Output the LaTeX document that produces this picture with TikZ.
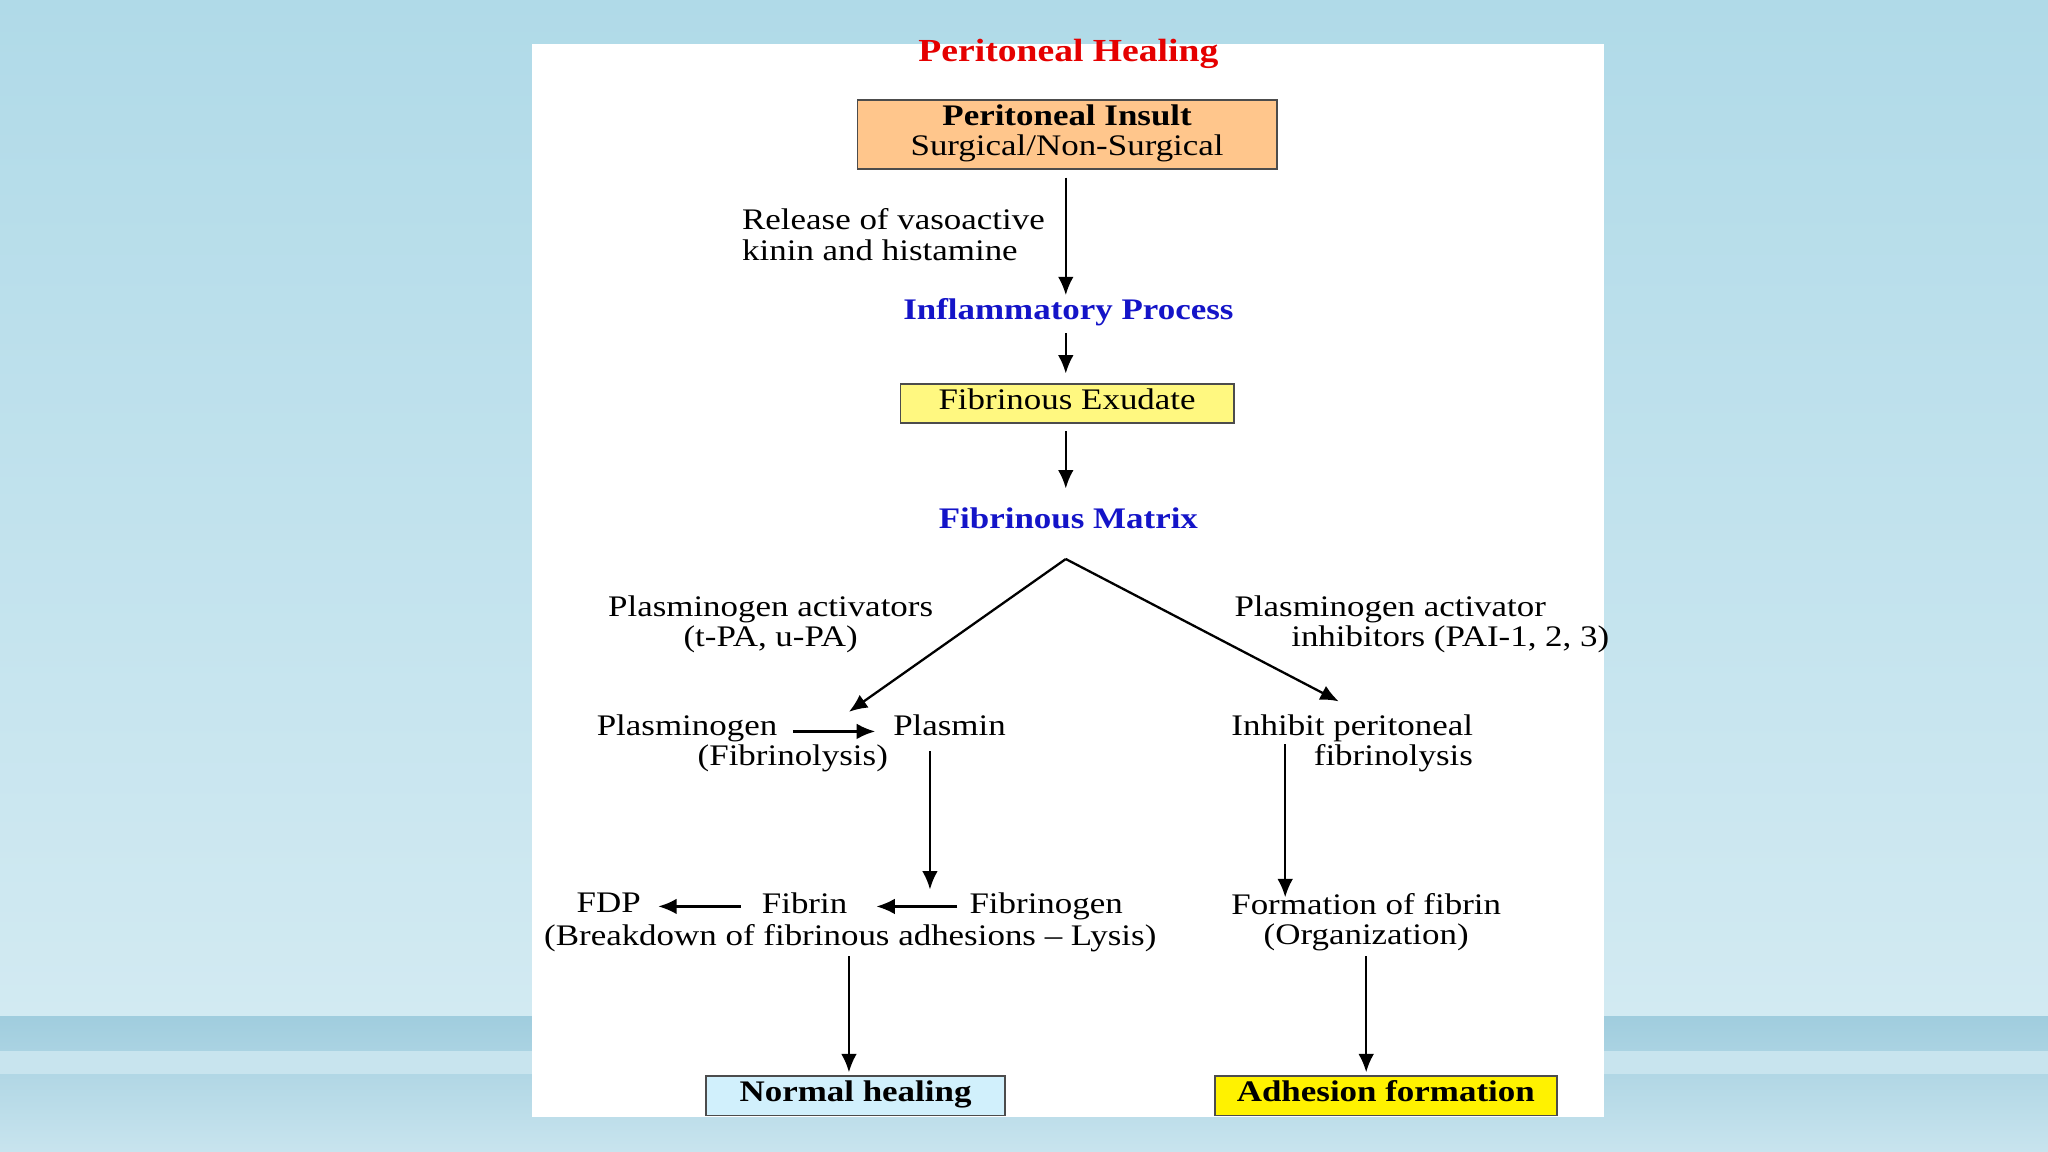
\documentclass[tikz,border=0pt]{standalone}
\usepackage{fontspec}
\setmainfont{Liberation Serif}[FakeStretch=1.17]
\usetikzlibrary{arrows.meta}
\definecolor{bgtop}{RGB}{176,218,232}
\definecolor{bgbot}{RGB}{210,234,242}
\definecolor{sea}{RGB}{160,205,222}
\definecolor{sealt}{RGB}{200,228,238}
\definecolor{ttlblue}{RGB}{20,20,200}
\begin{document}
\begin{tikzpicture}[x=0.01cm,y=-0.01cm,
  every node/.style={font=\fontsize{6.5}{6.6}\selectfont,inner sep=1pt,align=center,text depth=0.2em},
  ar/.style={line width=0.5pt,-{Latex[length=4pt,width=3.4pt]}},
  bx/.style={draw=black!70,line width=0.4pt},
  ttl/.style={font=\fontsize{6.5}{6.6}\selectfont\bfseries,text=ttlblue}]
\useasboundingbox (0,0) rectangle (1568,882);
\shade[top color=bgtop, bottom color=bgbot] (0,0) rectangle (1568,778);
\shade[top color=sea, bottom color=sealt] (0,778) rectangle (1568,882);
\fill[sealt] (0,805) rectangle (1568,822);
\fill[white] (407,34) rectangle (1228,855);

\node[font=\fontsize{7}{7}\selectfont\bfseries,text=red!90!black] (title) at (818,42) {Peritoneal Healing};
\node[bx,fill=orange!45,minimum width=321*0.01cm,minimum height=46*0.01cm] (insult) at (817,103) {\textbf{Peritoneal Insult}\\Surgical/Non-Surgical};
\node[ttl] (infl) at (818,240) {Inflammatory Process};
\coordinate (a1) at (816,136); \coordinate (a2) at (816,226);
\draw[ar] (a1) -- (a2);
\node[anchor=west,align=left] (rel) at (564,183) {Release of vasoactive\\kinin and histamine};
\coordinate (b1) at (816,255); \coordinate (b2) at (816,286);
\draw[ar] (b1) -- (b2);
\node[bx,fill=yellow!50,minimum width=255*0.01cm,minimum height=29*0.01cm] (exu) at (817,309) {Fibrinous Exudate};
\coordinate (c1) at (816,330); \coordinate (c2) at (816,374);
\draw[ar] (c1) -- (c2);
\node[ttl] (mat) at (818,400) {Fibrinous Matrix};
\coordinate (apex) at (816,428);
\coordinate (lt) at (650,545); \coordinate (rt) at (1025,537);
\draw[ar] (apex) -- (lt);
\draw[ar] (apex) -- (rt);
\node (pa) at (590,479) {Plasminogen activators\\(t-PA, u-PA)};
\node[anchor=west,align=left] (pai) at (941,479) {Plasminogen activator\\\hspace{1.9em}inhibitors (PAI-1, 2, 3)};
\node (plg) at (526,559) {Plasminogen};
\node (pls) at (727,559) {Plasmin};
\node (fl) at (607,582) {(Fibrinolysis)};
\coordinate (p1) at (607,560); \coordinate (p2) at (670,560);
\draw[ar] (p1) -- (p2);
\node[anchor=east,align=right] (inh) at (1132,570) {Inhibit peritoneal\\fibrinolysis};
\coordinate (d1) at (712,575); \coordinate (d2) at (712,681);
\draw[ar] (d1) -- (d2);
\coordinate (e1) at (984,570); \coordinate (e2) at (984,687);
\draw[ar] (e1) -- (e2);
\node (fdp) at (466,695) {FDP};
\node (fib) at (616,695) {Fibrin};
\node (fbg) at (801,695) {Fibrinogen};
\coordinate (h1) at (567,694); \coordinate (h2) at (504,694);
\coordinate (i1) at (733,694); \coordinate (i2) at (671,694);
\draw[ar] (h1) -- (h2);
\draw[ar] (i1) -- (i2);
\node (brk) at (651,719) {(Breakdown of fibrinous adhesions -- Lysis)};
\node (form) at (1046,707) {Formation of fibrin\\(Organization)};
\node[bx,fill=cyan!18,minimum width=229*0.01cm,minimum height=30*0.01cm,font=\fontsize{6.5}{6.6}\selectfont\bfseries] (nh) at (655,839) {Normal healing};
\node[bx,fill=yellow,minimum width=262*0.01cm,minimum height=30*0.01cm,font=\fontsize{6.5}{6.6}\selectfont\bfseries] (adh) at (1061,839) {Adhesion formation};
\coordinate (f1) at (650,732); \coordinate (f2) at (650,821);
\coordinate (g1) at (1046,732); \coordinate (g2) at (1046,821);
\draw[ar] (f1) -- (f2);
\draw[ar] (g1) -- (g2);
\end{tikzpicture}
\end{document}
